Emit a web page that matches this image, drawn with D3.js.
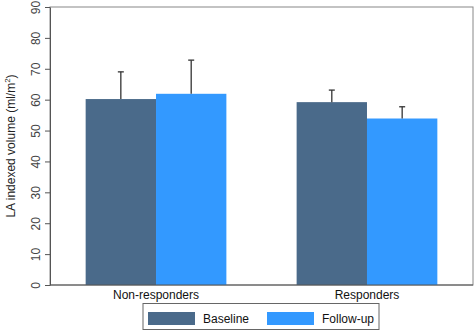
<!DOCTYPE html>
<html><head><meta charset="utf-8">
<script src="https://cdn.jsdelivr.net/npm/d3@7"></script>
<style>body{margin:0;background:#fff}svg{display:block;font-family:"Liberation Sans",Arial,sans-serif}</style>
</head><body><svg id="c" width="474" height="331"></svg>
<script>
const categories = ["Non-responders", "Responders"];
const seriesNames = ["Baseline", "Follow-up"];
const baselineValues = [60.2, 59.2];
const followupValues = [61.9, 53.9];
const baselineErr = [69.0, 63.1];
const followupErr = [72.8, 57.7];
const yTicks = [0,10,20,30,40,50,60,70,80,90];
const colors = ["#4a6a8a", "#3399ff"];

const svg = d3.select("#c");
const L = 50, R = 473, T = 7, B = 285;
const y = d3.scaleLinear().domain([0,90]).range([B,T]);
const x = d3.scaleBand().domain(categories).range([L,R]).paddingInner(0.333).paddingOuter(0.169);
const xs = d3.scaleBand().domain(seriesNames).range([0, x.bandwidth()]);

// frame
svg.append("rect").attr("x",L).attr("y",T).attr("width",R-L).attr("height",B-T)
  .attr("fill","none").attr("stroke","#888").attr("stroke-width",1);

const data = [];
categories.forEach((c,i)=>{
  data.push({c, s:seriesNames[0], v:baselineValues[i], e:baselineErr[i], col:colors[0]});
  data.push({c, s:seriesNames[1], v:followupValues[i], e:followupErr[i], col:colors[1]});
});

svg.append("g").selectAll("rect").data(data).join("rect")
  .attr("x",d=>x(d.c)+xs(d.s)).attr("width",xs.bandwidth())
  .attr("y",d=>y(d.v)).attr("height",d=>y(0)-y(d.v)).attr("fill",d=>d.col);

const eb = svg.append("g").attr("stroke","#333").attr("stroke-width",1.3);
data.forEach(d=>{
  const cx = x(d.c)+xs(d.s)+xs.bandwidth()/2;
  eb.append("line").attr("x1",cx).attr("x2",cx).attr("y1",y(d.v)).attr("y2",y(d.e));
  eb.append("line").attr("x1",cx-3).attr("x2",cx+3).attr("y1",y(d.e)).attr("y2",y(d.e));
});

// y axis
const ya = svg.append("g").attr("transform",`translate(${L},0)`)
  .call(d3.axisLeft(y).tickValues(yTicks).tickSize(5).tickSizeOuter(0));
ya.select(".domain").attr("stroke","#555");
ya.selectAll(".tick line").attr("stroke","#555");
ya.selectAll(".tick text").attr("transform",function(d){return `translate(-13,0) rotate(-90)`;})
  .attr("x",0).attr("dy","0").attr("text-anchor","middle").attr("dominant-baseline","middle")
  .attr("font-size",12).attr("fill","#444");

// x axis
svg.append("line").attr("x1",L).attr("x2",R).attr("y1",B).attr("y2",B).attr("stroke","#555");
svg.append("g").selectAll("text").data(categories).join("text")
  .attr("x",d=>x(d)+x.bandwidth()/2).attr("y",299).attr("text-anchor","middle")
  .attr("font-size",12).attr("fill","#111").text(d=>d);

// y title
svg.append("text").attr("transform",`translate(15,${(T+B)/2}) rotate(-90)`)
  .attr("text-anchor","middle").attr("font-size",12).attr("fill","#222")
  .html('LA indexed volume (ml/m<tspan dy="-5" font-size="8">2</tspan><tspan dy="5">)</tspan>');

// legend
const lg = svg.append("g");
lg.append("rect").attr("x",143).attr("y",303.5).attr("width",236).attr("height",26)
  .attr("fill","#fff").attr("stroke","#666");
const lx = [148, 267];
seriesNames.forEach((s,i)=>{
  lg.append("rect").attr("x",lx[i]).attr("y",312).attr("width",47).attr("height",13).attr("fill",colors[i]);
  lg.append("text").attr("x",lx[i]+55).attr("y",323).attr("font-size",12).attr("fill","#111").text(s);
});
</script></body></html>
